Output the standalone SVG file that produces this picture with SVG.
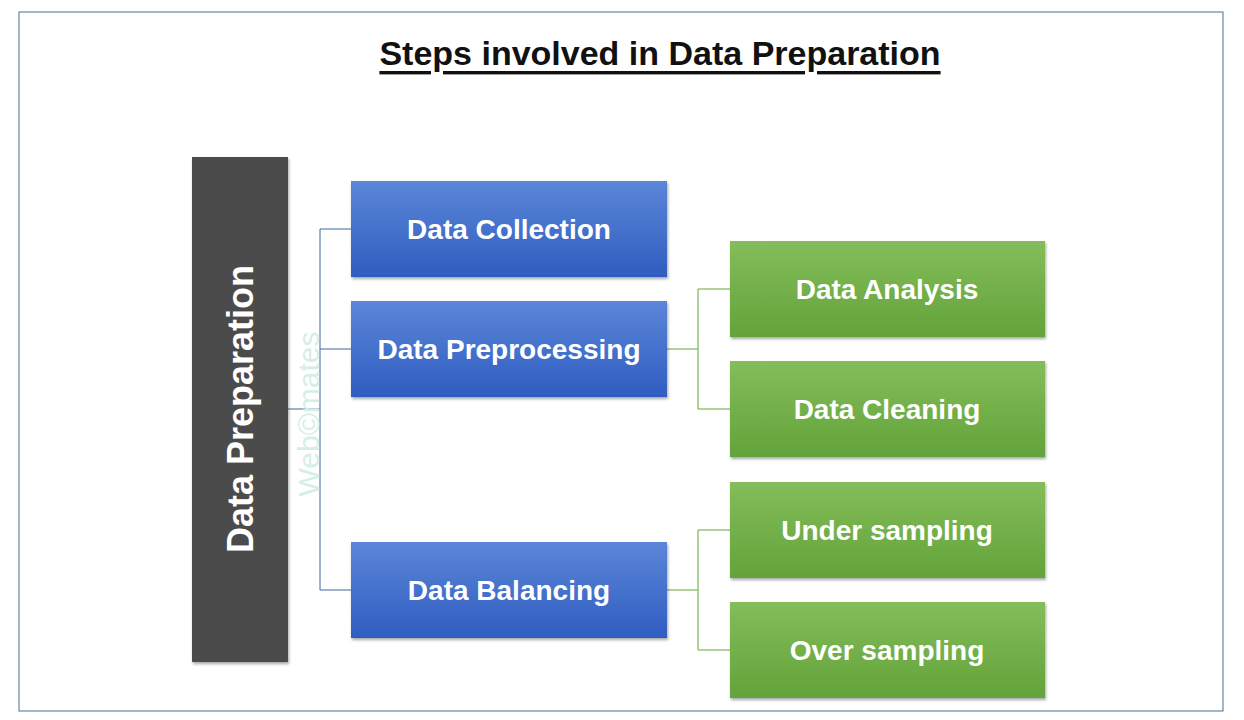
<svg xmlns="http://www.w3.org/2000/svg" width="1244" height="720" viewBox="0 0 1244 720">
<defs>
<linearGradient id="gb" x1="0" y1="0" x2="0" y2="1"><stop offset="0" stop-color="#5b86d8"/><stop offset="1" stop-color="#2f5dc0"/></linearGradient>
<linearGradient id="gg" x1="0" y1="0" x2="0" y2="1"><stop offset="0" stop-color="#84bd5a"/><stop offset="1" stop-color="#63a33a"/></linearGradient>
<filter id="sh" x="-10%" y="-10%" width="120%" height="130%"><feDropShadow dx="1" dy="2" stdDeviation="1.5" flood-color="#000" flood-opacity="0.35"/></filter>
</defs>
<style>
.t{font-family:"Liberation Sans",Arial,sans-serif;font-weight:bold;fill:#fff;font-size:28px;text-anchor:middle;dominant-baseline:central}
.b{fill:url(#gb);filter:url(#sh)}
.g{fill:url(#gg);filter:url(#sh)}
.c line{stroke:#5a7fae;stroke-width:1.2}
.c2 line{stroke:#7fb45a;stroke-width:1.2}
</style>
<rect width="1244" height="720" fill="#fff"/>
<rect x="19" y="12" width="1204" height="699" fill="none" stroke="#4a7090" stroke-width="1"/>
<text x="660" y="53" font-family="Liberation Sans,Arial,sans-serif" font-weight="bold" font-size="34" text-anchor="middle" dominant-baseline="central" fill="#111" text-decoration="underline">Steps involved in Data Preparation</text>
<g id="connectors">
<g class="c"><line x1="288" y1="409" x2="320" y2="409"/><line x1="320" y1="229" x2="320" y2="590"/><line x1="320" y1="229" x2="351" y2="229"/><line x1="320" y1="349" x2="351" y2="349"/><line x1="320" y1="590" x2="351" y2="590"/></g>
<g class="c2"><line x1="667" y1="349" x2="698" y2="349"/><line x1="698" y1="289" x2="698" y2="409"/><line x1="698" y1="289" x2="730" y2="289"/><line x1="698" y1="409" x2="730" y2="409"/>
<line x1="667" y1="590" x2="698" y2="590"/><line x1="698" y1="530" x2="698" y2="650"/><line x1="698" y1="530" x2="730" y2="530"/><line x1="698" y1="650" x2="730" y2="650"/></g>
</g>
<g id="root"><rect x="192" y="157" width="96" height="505" fill="#4b4b4b" filter="url(#sh)"/><text class="t" font-size="36" transform="translate(240,409) rotate(-90)" style="font-size:36px">Data Preparation</text></g>
<text transform="translate(308,414) rotate(-90)" font-family="Liberation Sans,Arial,sans-serif" font-size="30" text-anchor="middle" dominant-baseline="central" fill="#d6efe6">Web©mates</text>
<g id="collection"><rect class="b" x="351" y="181" width="316" height="96"/><text class="t" x="509" y="229">Data Collection</text></g>
<g id="preprocessing"><rect class="b" x="351" y="301" width="316" height="96"/><text class="t" x="509" y="349">Data Preprocessing</text></g>
<g id="balancing"><rect class="b" x="351" y="542" width="316" height="96"/><text class="t" x="509" y="590">Data Balancing</text></g>
<g id="analysis"><rect class="g" x="730" y="241" width="315" height="96"/><text class="t" x="887" y="289">Data Analysis</text></g>
<g id="cleaning"><rect class="g" x="730" y="361" width="315" height="96"/><text class="t" x="887" y="409">Data Cleaning</text></g>
<g id="under"><rect class="g" x="730" y="482" width="315" height="96"/><text class="t" x="887" y="530">Under sampling</text></g>
<g id="over"><rect class="g" x="730" y="602" width="315" height="96"/><text class="t" x="887" y="650">Over sampling</text></g>
</svg>
